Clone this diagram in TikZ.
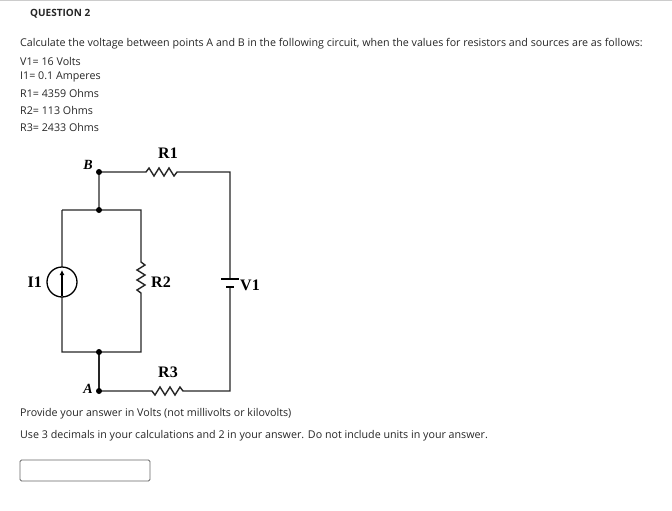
\documentclass[tikz,border=0pt]{standalone}
\usepackage{fontspec}
\usetikzlibrary{arrows.meta}
\setmainfont{Open Sans}
\newfontfamily\circfont{Liberation Serif}
\begin{document}
\begin{tikzpicture}[x=1pt,y=-1pt,
  txt/.style={anchor=west,inner sep=0pt,font=\fontsize{10.7}{12}\selectfont,text=black!85},
  lbl/.style={inner sep=0pt,font=\circfont\bfseries\fontsize{16}{16}\selectfont},
  wire/.style={line width=1.4pt,black!85},
  dot/.style={circle,fill=black,inner sep=0pt,minimum size=6pt}]
\useasboundingbox (0,0) rectangle (672,511);
\draw[black!20] (0,0.5) -- (672,0.5);
\node[txt,font=\bfseries\fontsize{10}{12}\selectfont] (q) at (30,14) {QUESTION 2};
\node[txt] (t1) at (20,44) {Calculate the voltage between points A and B in the following circuit, when the values for resistors and sources are as follows:};
\node[txt] (t2) at (20,61) {V1= 16 Volts};
\node[txt] (t3) at (20,77) {I1= 0.1 Amperes};
\node[txt] (t4) at (20,93) {R1= 4359 Ohms};
\node[txt] (t5) at (20,110) {R2= 113 Ohms};
\node[txt] (t6) at (20,127) {R3= 2433 Ohms};
\node[txt] (t7) at (20,414) {Provide your answer in Volts (not millivolts or kilovolts)};
\node[txt] (t8) at (20,436) {Use 3 decimals in your calculations and 2 in your answer. Do not include units in your answer.};
\draw[black!60,line width=0.8pt,rounded corners=1.5pt] (20,460) rectangle (150,481);
% circuit
\coordinate (B) at (99,172);
\coordinate (T) at (99,210);
\coordinate (D) at (99,352);
\coordinate (A) at (99,391);
\coordinate (TL) at (62,210); \coordinate (TR) at (141,210);
\coordinate (DL) at (62,352); \coordinate (DR) at (141,352);
\coordinate (BR) at (230,172); \coordinate (AR) at (230,391);
\draw[wire] (B) -- (146,172) -- ++(3,-4) -- ++(5,8) -- ++(5,-8) -- ++(5,8) -- ++(5,-8) -- ++(5,8) -- ++(3,-4) -- (BR) -- (230,279);
\draw[wire] (230,287) -- (AR) -- (183,391) -- ++(-3,-4) -- ++(-5,8) -- ++(-5,-8) -- ++(-5,8) -- ++(-5,-8) -- ++(-5,8) -- ++(-3,-4) -- (A);
\draw[wire] (B) -- (T) (TL) -- (TR) -- (141,262) -- ++(4,3) -- ++(-8,5) -- ++(8,5) -- ++(-8,5) -- ++(8,5) -- ++(-8,5) -- ++(4,3) -- (DR) -- (DL) -- (TL);
\draw[wire] (D) -- (A);
\draw[line width=1.5pt] (221,279) -- (239,279);
\draw[line width=1.5pt] (226,287) -- (234,287);
\node[circle,draw,line width=1.3pt,fill=white,minimum size=30pt,inner sep=0pt] (I) at (62,282) {};
\draw[line width=1.3pt,-{Latex[length=5pt,width=5pt]}] (62,296) -- (62,270);
\node[dot] (nB) at (B) {}; \node[dot] (nT) at (T) {}; \node[dot] (nD) at (D) {}; \node[dot] (nA) at (A) {};
\node[lbl] (lR1) at (168,153) {R1};
\node[lbl,anchor=west] (lR2) at (151,282) {R2};
\node[lbl] (lR3) at (168,372) {R3};
\node[lbl,anchor=east] (lI1) at (42,282) {I1};
\node[lbl,anchor=west] (lV1) at (240,285) {V1};
\node[lbl,font=\circfont\bfseries\itshape\fontsize{14}{14}\selectfont] (lB) at (88,165) {B};
\node[lbl,font=\circfont\bfseries\itshape\fontsize{14}{14}\selectfont] (lA) at (88,389) {A};
\end{tikzpicture}
\end{document}
